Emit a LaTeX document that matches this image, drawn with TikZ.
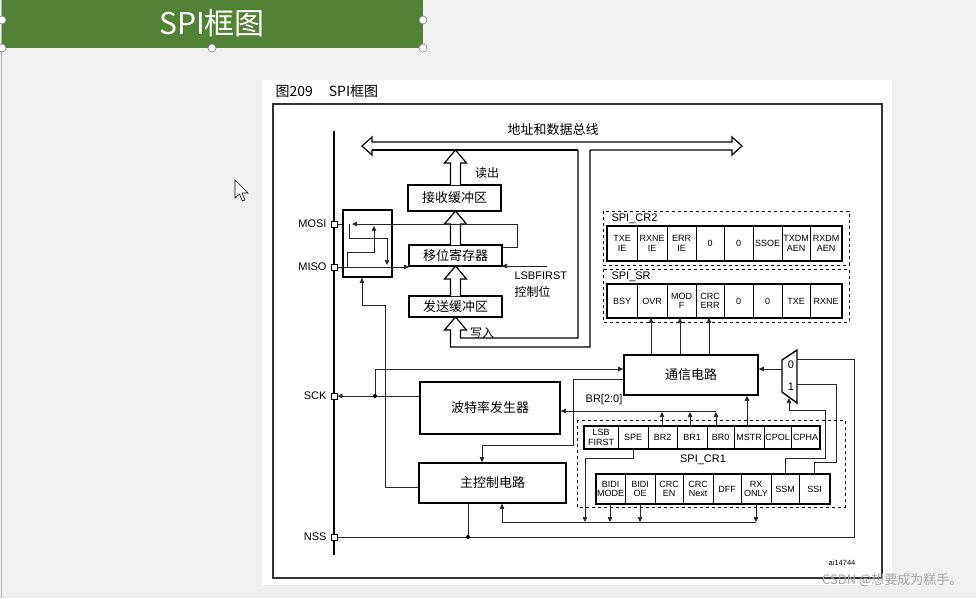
\documentclass[tikz,border=0pt]{standalone}
\usepackage{fontspec}
\setmainfont{Liberation Sans}
\newfontfamily\cjk{Noto Sans CJK SC}
\usetikzlibrary{arrows.meta}
\newcommand\hollowup[3]{\draw[line width=1.2pt,fill=white] (#1-5,#2) -- (#1-5,#3+13) -- (#1-11,#3+13) -- (#1,#3) -- (#1+11,#3+13) -- (#1+5,#3+13) -- (#1+5,#2);}
\begin{document}
\begin{tikzpicture}[x=1pt,y=-1pt,>={Triangle[length=5pt,width=4.5pt]},
  wire/.style={draw=black!85,line width=0.7pt},
  blk/.style={draw,line width=1.6pt,fill=white,inner sep=0pt,font=\cjk\fontsize{13}{14}\selectfont},
  cell/.style={draw,line width=0.6pt,fill=white,inner sep=0pt,align=center,font=\fontsize{9}{9.5}\selectfont},
  dbox/.style={draw,dashed,line width=0.6pt},
  pin/.style={draw,line width=0.8pt,fill=white,minimum size=6pt,inner sep=0pt},
  pinlbl/.style={anchor=east,font=\fontsize{11}{12}\selectfont},
  lbl/.style={font=\fontsize{11}{12}\selectfont},
  handle/.style={draw=black!50,fill=white,line width=0.6pt},
  dot/.style={circle,fill,inner sep=0pt,minimum size=4pt}]
\useasboundingbox (0,0) rectangle (976,598);
\fill[black!6] (0,0) rectangle (976,598);
\draw[black!30] (1,0) -- (1,598);
% title bar
\fill[fill={rgb,255:red,84;green,130;blue,53}] (2,0) rectangle (423,48);
\node[text=white,font=\cjk\fontsize{30}{34}\selectfont] (ttl) at (212,23) {SPI框图};
\foreach \p in {(2,20),(423,20),(2,48),(212,48),(423,48)} \draw[handle] \p circle (4);
% cursor
\draw[fill=white,line width=0.6pt] (235,180) -- (235,198) -- (239.5,194) -- (242.5,201) -- (245,200) -- (242,193) -- (248,193) -- cycle;
% page
\fill[white] (262,80) rectangle (892,585);
\draw[line width=1.2pt,black!80] (273,104) rectangle (882,578);
\node[anchor=west,font=\cjk\fontsize{14}{15}\selectfont] (fig) at (272,91) {图209\hspace{16pt}SPI框图};
% pin bar
\draw[line width=1.6pt] (334,131) -- (334,555);
% bus
\node[font=\cjk\fontsize{13}{14}\selectfont] (buslbl) at (553,130) {地址和数据总线};
\fill[white] (362,146) -- (372,137) -- (372,142) -- (732,142) -- (732,137) -- (742,146) -- (732,155) -- (732,150) -- (372,150) -- (372,155) -- cycle;
\draw[line width=1.2pt] (372,150) -- (372,155) -- (362,146) -- (372,137) -- (372,142) -- (732,142) -- (732,137) -- (742,146) -- (732,155) -- (732,150) -- (590,150);
\draw[line width=1.2pt] (578,150) -- (372,150);
\draw[line width=1.2pt] (590,150) -- (590,347) -- (450.5,347) -- (450.5,330) -- (444.5,330) -- (455.5,317) -- (466.5,330) -- (460.5,330) -- (460.5,338) -- (578,338) -- (578,150);
% buffers
\node[blk,minimum width=93pt,minimum height=26pt] (rx) at (454.5,198) {接收缓冲区};
\node[blk,minimum width=93pt,minimum height=21pt] (sh) at (455.5,255.5) {移位寄存器};
\node[blk,minimum width=93pt,minimum height=21pt] (tx) at (455.5,306.5) {发送缓冲区};
\hollowup{455.5}{185}{150}
\hollowup{455.5}{245}{211}
\hollowup{455.5}{296}{266}
\node[font=\cjk\fontsize{12}{13}\selectfont] (rd) at (487,173) {读出};
\node[font=\cjk\fontsize{12}{13}\selectfont] (wr) at (482,333) {写入};
% mux box
\node[draw,line width=1.6pt,fill=white,minimum width=49pt,minimum height=67pt] (io) at (367.5,243.5) {};
% pins
\node[pin] (pmosi) at (334,224) {};
\node[pin] (pmiso) at (334,267) {};
\node[pin] (psck) at (334,396) {};
\node[pin] (pnss) at (334,537) {};
\node[pinlbl] (lmosi) at (330,224) {MOSI};
\node[pinlbl] (lmiso) at (330,267) {MISO};
\node[pinlbl] (lsck) at (330,396) {SCK};
\node[pinlbl] (lnss) at (330,537) {NSS};
% io wires
\draw[wire] (pmosi.east) -- (io.west |- pmosi);
\draw[wire,->] (502,247) -- (517,247) -- (517,224) -- (352,224);
\draw[wire,->] (pmiso.east) -- (409,267);
\draw[wire,->] (349,224) -- (349,238) -- (387,238) -- (387,265);
\draw[wire,->] (347,267) -- (347,252) -- (374,252) -- (374,226);
\draw[wire,->] (547,266) -- (502,266);
\node[anchor=west,lbl,align=left] (lsbf) at (511,276) {LSBFIRST};
\node[anchor=west,font=\cjk\fontsize{12}{13}\selectfont] (lsbc) at (511,292) {控制位};
% blocks
\node[blk,minimum width=134pt,minimum height=40pt] (comm) at (691,375) {通信电路};
\node[blk,minimum width=140pt,minimum height=52pt] (baud) at (490,408) {波特率发生器};
\node[blk,minimum width=147pt,minimum height=40pt] (mctl) at (492.5,483) {主控制电路};
% selector
\draw[line width=1.4pt,fill=white] (782,360) -- (797,350) -- (797,403) -- (782,392) -- cycle;
\node[lbl] (m0) at (791,365) {0};
\node[lbl] (m1) at (791,387) {1};
\coordinate (mux) at (782,369);
% registers
\draw[dbox] (603,211) rectangle (849,265);
\draw[dbox] (603,269) rectangle (849,322);
\draw[dbox] (577,420) rectangle (845,507);
\node[anchor=west,lbl] (lcr2) at (608,219) {SPI\_CR2};
\node[anchor=west,lbl] (lsr) at (608,277) {SPI\_SR};
\node[lbl] (lcr1) at (703,460) {SPI\_CR1};
\foreach \a/\b/\t in {607/637/{TXE\\IE},637/667/{RXNE\\IE},667/696/{ERR\\IE},696/724/0,724/753/0,753/782/SSOE,782/810/{TXDM\\AEN},810/842/{RXDM\\AEN}}
  \node[cell,minimum width=\b pt-\a pt,minimum height=35pt] at ({(\a+\b)/2},243.5) {\t};
\draw[line width=1.6pt] (607,226) rectangle (842,261);
\foreach \a/\b/\t in {607/637/BSY,637/667/OVR,667/696/{MOD\\F},696/724/{CRC\\ERR},724/753/0,753/782/0,782/810/TXE,810/842/RXNE}
  \node[cell,minimum width=\b pt-\a pt,minimum height=34pt] at ({(\a+\b)/2},301) {\t};
\draw[line width=1.6pt] (607,284) rectangle (842,318);
\foreach \a/\b/\t in {584/618/{LSB\\FIRST},618/648/SPE,648/677/BR2,677/707/BR1,707/734/BR0,734/764/MSTR,764/791/CPOL,791/820/CPHA}
  \node[cell,minimum width=\b pt-\a pt,minimum height=23pt] at ({(\a+\b)/2},437.5) {\t};
\draw[line width=1.6pt] (584,426) rectangle (820,449);
\foreach \a/\b/\t in {596/625/{BIDI\\MODE},625/655/{BIDI\\OE},655/683/{CRC\\EN},683/713/{CRC\\Next},713/741/DFF,741/771/{RX\\ONLY},771/799/SSM,799/830/SSI}
  \node[cell,minimum width=\b pt-\a pt,minimum height=30pt] at ({(\a+\b)/2},489) {\t};
\draw[line width=1.6pt] (596,474) rectangle (830,504);
% control wires
\draw[wire,->] (mctl.west |- 0,487) -- (385,487) -- (385,305) -- (362,305) -- (io.south -| 362,0);
\draw[wire,->] (baud.west |- 0,396) -- (psck.east);
\node[dot] (d1) at (375,396) {};
\draw[wire,->] (d1) -- (375,369) -- (comm.west |- 0,369);
\draw[wire,->] (comm.west |- 0,379) -- (573,379) -- (573,445) -- (482,445) -- (mctl.north -| 482,0);
\draw[wire,->] (mux) -- (comm.east |- mux);
\foreach \x in {651,680,709} \draw[wire,->] (comm.north -| \x,0) -- (\x,318);
\draw[wire] (797,359) -- (854,359) -- (854,537) -- (pnss.east);
\node[dot] (d2) at (468,537) {};
\draw[wire] (d2) -- (mctl.south -| 468,0);
\draw[wire] (797,384) -- (836,384) -- (836,462) -- (814,462) -- (814,474);
\draw[wire,->] (785,474) -- (785,458) -- (825,458) -- (825,410) -- (789,410) -- (789,398);
\draw[wire,->] (747,426) -- (comm.south -| 747,0);
\draw[wire,->] (716,411) -- (baud.east |- 0,411);
\foreach \x in {662,690,716} \draw[wire,->] (\x,426) -- (\x,412);
\node[lbl] (brl) at (604,400) {BR[2:0]};
\draw[wire,->] (633,449) -- (633,458) -- (585,458) -- (585,522);
\draw[wire,->] (756,522) -- (502,522) -- (mctl.south -| 502,0);
\foreach \x in {610,640,756} \draw[wire,->] (\x,504) -- (\x,522);
\node[font=\fontsize{7.5}{8}\selectfont] (ai) at (842,563) {ai14744};
\node[anchor=east,text=black!35,font=\cjk\fontsize{13}{14}\selectfont] (wm) at (966,580) {CSDN @想要成为糕手。};
\end{tikzpicture}
\end{document}
